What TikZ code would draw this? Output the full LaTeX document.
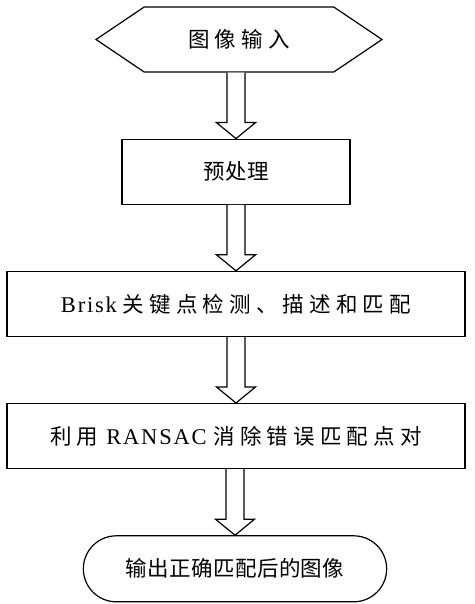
\documentclass[tikz,border=0pt]{standalone}
\usepackage{fontspec}
\setmainfont{Liberation Serif}
\newfontfamily\cjkwide[LetterSpace=24]{Noto Sans CJK SC}
\newfontfamily\cjknarrow[LetterSpace=2]{Noto Sans CJK SC}
\newfontfamily\latwide[LetterSpace=8]{Liberation Serif}
\usepackage{tikz}
\usetikzlibrary{shapes.geometric, shapes.symbols, shapes.misc, calc, positioning}
\tikzstyle{box} = [rectangle, line width=1.2pt, minimum height=65pt, text centered, draw=black, fill=white]
\tikzstyle{hexa} = [signal, signal to=west and east, signal pointer angle=68, line width=1.2pt, minimum width=286pt, minimum height=65pt, text centered, draw=black]
\tikzstyle{endbox} = [rounded rectangle, line width=1.2pt, minimum width=305pt, minimum height=66pt, text centered, draw=black]
\tikzstyle{hollow} = [line width=1.2pt, draw=black, fill=white, line join=miter]
\newcommand{\bigtext}{\fontsize{21.5}{25}\selectfont}
\newcommand{\lat}[1]{{\fontsize{22.5}{25}\selectfont\latwide #1}}

\begin{document}
\begin{tikzpicture}[x=1pt, y=1pt, node distance = 66pt, auto]
	\useasboundingbox (0,0) rectangle (474,-604);
	\node (input) [hexa] at (239,-39.5) {\bigtext\cjkwide 图像输入};
	\node (pre) [box, minimum width=228pt, below=of input, xshift=-3pt] {\bigtext\cjknarrow 预处理};
	\node (brisk) [box, minimum width=458pt, below=of pre] {\bigtext\lat{Brisk}\hspace{6pt}{\cjkwide 关键点检测、描述和匹配}};
	\node (ransac) [box, minimum width=458pt, below=of brisk] {\bigtext{\cjkwide 利用}\hspace{8pt}\lat{RANSAC}\hspace{7pt}{\cjkwide 消除错误匹配点对}};
	\node (output) [endbox, minimum width=310pt, below=of ransac, xshift=-1pt] {\bigtext\cjknarrow 输出正确匹配后的图像};
	\foreach \a/\b in {input/pre, pre/brisk, brisk/ransac, ransac/output}{
		\draw[hollow] ($(\a.south -| \b.north)+(-9,0)$) -- ($(\b.north)+(-9,16)$) -- ($(\b.north)+(-19.5,16)$) -- (\b.north)
			-- ($(\b.north)+(19.5,16)$) -- ($(\b.north)+(9,16)$) -- ($(\a.south -| \b.north)+(9,0)$);
	}
\end{tikzpicture}
\end{document}
